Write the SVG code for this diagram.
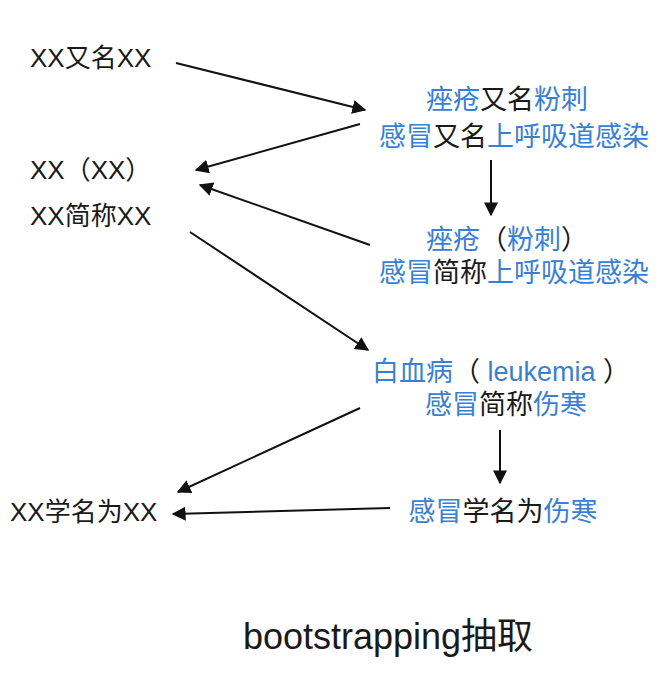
<svg xmlns="http://www.w3.org/2000/svg" width="658" height="698" viewBox="0 0 658 698">
<defs>
<marker id="ah" viewBox="0 0 10 10" refX="9" refY="5" markerWidth="7" markerHeight="7" orient="auto-start-reverse"><path d="M0,0 L10,5 L0,10 z" fill="#111"/></marker>
<style>
text{font-family:"Liberation Sans","Noto Sans CJK SC",sans-serif;font-size:26px;fill:#1a1a1a}
.b{fill:#3a80d2}
.r{text-anchor:middle;font-size:27px}
line{stroke:#111;stroke-width:2;marker-end:url(#ah)}
</style>
</defs>
<rect width="658" height="698" fill="#fff"/>
<g id="n1"><text x="30" y="67">XX又名XX</text></g>
<g id="n2"><text x="30" y="179">XX（XX）</text></g>
<g id="n3"><text x="30" y="225">XX简称XX</text></g>
<g id="n4"><text x="10" y="521">XX学名为XX</text></g>
<g id="r1"><text class="r" x="507" y="109"><tspan class="b">痤疮</tspan>又名<tspan class="b">粉刺</tspan></text>
<text class="r" x="514" y="146"><tspan class="b">感冒</tspan>又名<tspan class="b">上呼吸道感染</tspan></text></g>
<g id="r2"><text class="r" x="507" y="249"><tspan class="b">痤疮</tspan>（<tspan class="b">粉刺</tspan>）</text>
<text class="r" x="514" y="282"><tspan class="b">感冒</tspan>简称<tspan class="b">上呼吸道感染</tspan></text></g>
<g id="r3"><text x="372" y="381" style="font-size:27px"><tspan class="b">白血病</tspan>（  <tspan class="b">leukemia</tspan>  ）</text>
<text class="r" x="506" y="414"><tspan class="b">感冒</tspan>简称<tspan class="b">伤寒</tspan></text></g>
<g id="r4"><text class="r" x="503" y="521"><tspan class="b">感冒</tspan>学名为<tspan class="b">伤寒</tspan></text></g>
<g id="title"><text x="388" y="649" text-anchor="middle" style="font-size:36px">bootstrapping抽取</text></g>
<g id="connectors">
<line x1="176" y1="63" x2="365" y2="110"/>
<line x1="360" y1="124" x2="196" y2="170"/>
<line x1="491" y1="160" x2="491" y2="215"/>
<line x1="370" y1="245" x2="200" y2="185"/>
<line x1="190" y1="232" x2="368" y2="350"/>
<line x1="360" y1="408" x2="178" y2="492"/>
<line x1="500" y1="430" x2="500" y2="483"/>
<line x1="390" y1="508" x2="173" y2="514"/>
</g>
</svg>
